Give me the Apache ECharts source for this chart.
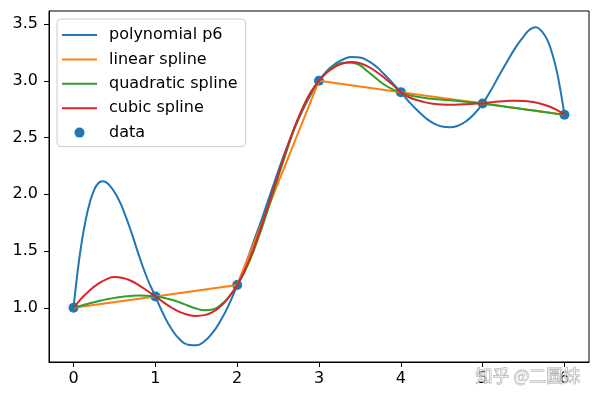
<!DOCTYPE html>
<html>
<head>
<meta charset="utf-8">
<script src="https://cdn.jsdelivr.net/npm/echarts@6/dist/echarts.min.js"></script>
<style>html,body{margin:0;padding:0;background:#fff}#c{width:600px;height:401px}</style>
</head>
<body>
<div id="c"></div>
<script>
// ---- data ----
var dataX = [0, 1, 2, 3, 4, 5, 6];
var dataY = [1.0, 1.1, 1.2, 3.0, 2.9, 2.8, 2.7];

var p6X = [0, 0.05, 0.1, 0.15, 0.2, 0.25, 0.3, 0.35, 0.4, 0.45, 0.5, 0.55, 0.6, 0.7, 0.8, 0.9, 1.0,
  1.1, 1.2, 1.3, 1.4, 1.5, 1.6, 1.7, 1.8, 1.9, 2.0,
  2.1, 2.2, 2.3, 2.4, 2.5, 2.6, 2.7, 2.8, 2.9, 3.0,
  3.1, 3.2, 3.3, 3.4, 3.5, 3.6, 3.7, 3.8, 3.9, 4.0,
  4.1, 4.2, 4.3, 4.4, 4.5, 4.6, 4.7, 4.8, 4.9, 5.0,
  5.1, 5.2, 5.3, 5.4, 5.5, 5.55, 5.6, 5.65, 5.7, 5.75, 5.8, 5.85, 5.9, 5.95, 6.0];
var p6Y = [1.0, 1.32, 1.58, 1.78, 1.93, 2.035, 2.095, 2.115, 2.105, 2.07, 2.02, 1.955, 1.875, 1.68, 1.46, 1.26, 1.1,
  0.94, 0.81, 0.72, 0.675, 0.67, 0.705, 0.78, 0.89, 1.03, 1.2,
  1.38, 1.58, 1.78, 1.99, 2.20, 2.40, 2.58, 2.74, 2.88, 3.0,
  3.09, 3.15, 3.19, 3.21, 3.205, 3.175, 3.125, 3.055, 2.98, 2.9,
  2.815, 2.74, 2.675, 2.625, 2.597, 2.59, 2.605, 2.645, 2.71, 2.8,
  2.915, 3.045, 3.17, 3.29, 3.39, 3.435, 3.462, 3.472, 3.452, 3.41, 3.345, 3.24, 3.105, 2.92, 2.7];

var splX = [0, 0.1, 0.2, 0.3, 0.4, 0.5, 0.6, 0.7, 0.8, 0.9, 1.0,
  1.1, 1.2, 1.3, 1.4, 1.5, 1.6, 1.7, 1.8, 1.9, 2.0,
  2.1, 2.2, 2.3, 2.4, 2.5, 2.6, 2.7, 2.8, 2.9, 3.0,
  3.1, 3.2, 3.3, 3.4, 3.5, 3.6, 3.7, 3.8, 3.9, 4.0,
  4.1, 4.2, 4.3, 4.4, 4.5, 4.6, 4.7, 4.8, 4.9, 5.0,
  5.1, 5.2, 5.3, 5.4, 5.5, 5.6, 5.7, 5.8, 5.9, 6.0];
var quadY = [1.0, 1.02, 1.04, 1.058, 1.074, 1.087, 1.097, 1.104, 1.107, 1.106, 1.1,
  1.088, 1.07, 1.046, 1.018, 0.993, 0.978, 0.985, 1.025, 1.095, 1.2,
  1.33, 1.50, 1.70, 1.92, 2.15, 2.37, 2.58, 2.75, 2.89, 3.0,
  3.08, 3.135, 3.16, 3.16, 3.135, 3.08, 3.02, 2.965, 2.925, 2.9,
  2.875, 2.86, 2.848, 2.84, 2.834, 2.828, 2.822, 2.815, 2.808, 2.8,
  2.79, 2.78, 2.77, 2.76, 2.75, 2.74, 2.73, 2.72, 2.71, 2.7];
var cubY = [1.0, 1.085, 1.155, 1.21, 1.25, 1.27, 1.263, 1.238, 1.198, 1.15, 1.1,
  1.048, 1.0, 0.962, 0.938, 0.928, 0.935, 0.962, 1.015, 1.095, 1.2,
  1.34, 1.52, 1.73, 1.95, 2.17, 2.39, 2.59, 2.76, 2.90, 3.0,
  3.075, 3.125, 3.155, 3.165, 3.155, 3.125, 3.08, 3.025, 2.965, 2.9,
  2.855, 2.83, 2.81, 2.797, 2.79, 2.788, 2.79, 2.794, 2.798, 2.8,
  2.81, 2.818, 2.823, 2.825, 2.823, 2.815, 2.80, 2.778, 2.745, 2.7];

var xTicks = [0, 1, 2, 3, 4, 5, 6];
var yTicks = [1.0, 1.5, 2.0, 2.5, 3.0, 3.5];
var names = ['polynomial p6', 'linear spline', 'quadratic spline', 'cubic spline', 'data'];
var colors = ['#1f77b4', '#ff7f0e', '#2ca02c', '#d62728'];

function pairs(xs, ys) { return xs.map(function (x, i) { return [x, ys[i]]; }); }

var FONT = 'DejaVu Sans';
var FS = 16;
var chart = echarts.init(document.getElementById('c'), null, { renderer: 'canvas' });

function lineSeries(name, data, color, smooth) {
  return {
    name: name, type: 'line', data: data, smooth: smooth, symbol: 'none', showSymbol: false,
    lineStyle: { color: color, width: 2 }, itemStyle: { color: color }, z: 3, animation: false
  };
}

var axisCommon = {
  type: 'value',
  axisLine: { show: true, onZero: false, lineStyle: { color: '#000', width: 1 } },
  axisTick: { show: true, inside: false, length: 5, lineStyle: { color: '#000', width: 1 } },
  splitLine: { show: false },
  axisLabel: { color: '#000', fontFamily: FONT, fontSize: FS }
};

var LINE_ICON = 'path://M0,0L35,0L35,2L0,2Z';

chart.setOption({
  animation: false,
  backgroundColor: '#fff',
  grid: { left: 49, right: 11, top: 11, bottom: 39, show: true, borderColor: '#000', borderWidth: 1, containLabel: false },
  xAxis: echarts.util.merge({
    min: -0.3, max: 6.3,
    axisTick: { customValues: xTicks },
    axisLabel: { customValues: xTicks, margin: 9, formatter: function (v) { return String(Math.round(v)); } }
  }, axisCommon),
  yAxis: echarts.util.merge({
    min: 0.522, max: 3.615,
    axisTick: { customValues: yTicks },
    axisLabel: { customValues: yTicks, margin: 11, formatter: function (v) { return v.toFixed(1); } }
  }, axisCommon),
  legend: {
    orient: 'vertical', left: 57, top: 19,
    data: [
      { name: names[0], icon: LINE_ICON },
      { name: names[1], icon: LINE_ICON },
      { name: names[2], icon: LINE_ICON },
      { name: names[3], icon: LINE_ICON },
      { name: names[4], icon: 'circle' }
    ],
    itemWidth: 35, itemHeight: 10, itemGap: 8.4,
    padding: [8, 8, 6, 5],
    backgroundColor: 'rgba(255,255,255,0.8)',
    borderColor: '#cccccc', borderWidth: 1, borderRadius: 4,
    textStyle: { fontFamily: FONT, fontSize: FS, color: '#000', lineHeight: 16, padding: [0, 0, 0, 7] },
    selectedMode: false
  },
  series: [
    lineSeries(names[0], pairs(p6X, p6Y), colors[0], true),
    lineSeries(names[1], pairs(dataX, dataY), colors[1], false),
    lineSeries(names[2], pairs(splX, quadY), colors[2], true),
    lineSeries(names[3], pairs(splX, cubY), colors[3], true),
    {
      name: names[4], type: 'scatter', data: pairs(dataX, dataY), symbol: 'circle', symbolSize: 10,
      itemStyle: { color: colors[0], opacity: 1 }, z: 1, animation: false
    }
  ],
  graphic: [{
    type: 'text', left: 475, top: 367, z: 100, silent: true,
    style: {
      text: '知乎 @二圆妹', font: '17px "Noto Sans CJK SC"',
      fill: 'rgba(255,255,255,0.55)', stroke: '#a8a8a8', lineWidth: 0.8
    }
  }]
});
</script>
</body>
</html>
